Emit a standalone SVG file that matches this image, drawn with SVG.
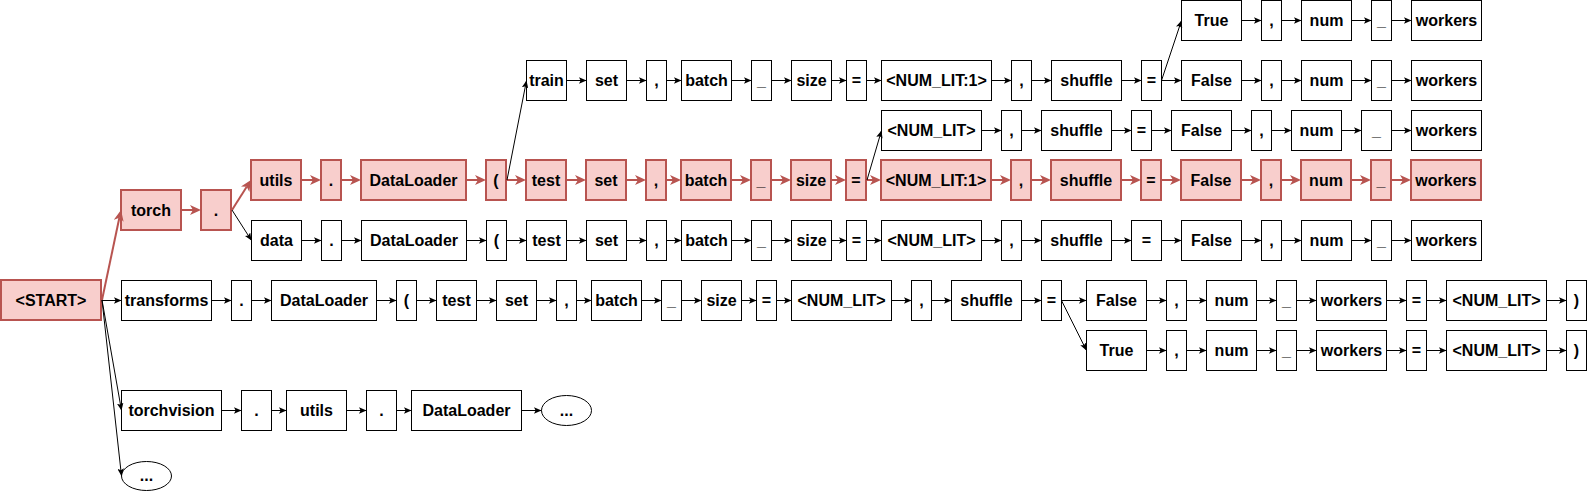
<svg xmlns="http://www.w3.org/2000/svg" width="1587" height="491" viewBox="0 0 1587 491">
<style>
.n rect{fill:#fff;stroke:#000;stroke-width:1}
.n ellipse{fill:#fff;stroke:#000;stroke-width:1}
.h rect{fill:#f8cecc;stroke:#b85450;stroke-width:2}
text{font-family:"Liberation Sans",Arial,sans-serif;font-size:16px;font-weight:bold;text-anchor:middle;fill:#000}
#edges .b{stroke:#000;stroke-width:1;fill:none;marker-end:url(#ab)}
#edges .r{stroke:#b85450;stroke-width:2;fill:none;marker-end:url(#ar)}
</style>
<defs>
<marker id="ab" viewBox="0 0 7.5 6.5" markerWidth="7.5" markerHeight="6.5" refX="7.5" refY="3.25" orient="auto" markerUnits="userSpaceOnUse"><path d="M0,0 L7.5,3.25 L0,6.5 L1.6,3.25 Z" fill="#000"/></marker>
<marker id="ar" viewBox="0 0 11 10" markerWidth="11" markerHeight="10" refX="3" refY="5" orient="auto" markerUnits="userSpaceOnUse"><path d="M0,0 L11,5 L0,10 L3,5 Z" fill="#b85450"/></marker>
</defs>
<rect width="1587" height="491" fill="#fff"/>

<!-- Row A -->
<g id="a1" class="n"><rect x="1181.5" y="0.5" width="60" height="40"/><text x="1211.5" y="26">True</text></g>
<g id="a2" class="n"><rect x="1261.5" y="0.5" width="20" height="40"/><text x="1271.5" y="26">,</text></g>
<g id="a3" class="n"><rect x="1301.5" y="0.5" width="50" height="40"/><text x="1326.5" y="26">num</text></g>
<g id="a4" class="n"><rect x="1371.5" y="0.5" width="20" height="40"/><text x="1381.5" y="26">_</text></g>
<g id="a5" class="n"><rect x="1411.5" y="0.5" width="70" height="40"/><text x="1446.5" y="26">workers</text></g>

<!-- Row B -->
<g id="b1" class="n"><rect x="526.5" y="60.5" width="40" height="40"/><text x="546.5" y="86">train</text></g>
<g id="b2" class="n"><rect x="586.5" y="60.5" width="40" height="40"/><text x="606.5" y="86">set</text></g>
<g id="b3" class="n"><rect x="646.5" y="60.5" width="20" height="40"/><text x="656.5" y="86">,</text></g>
<g id="b4" class="n"><rect x="681.5" y="60.5" width="50" height="40"/><text x="706.5" y="86">batch</text></g>
<g id="b5" class="n"><rect x="751.5" y="60.5" width="20" height="40"/><text x="761.5" y="86">_</text></g>
<g id="b6" class="n"><rect x="791.5" y="60.5" width="40" height="40"/><text x="811.5" y="86">size</text></g>
<g id="b7" class="n"><rect x="846.5" y="60.5" width="20" height="40"/><text x="856.5" y="86">=</text></g>
<g id="b8" class="n"><rect x="881.5" y="60.5" width="110" height="40"/><text x="936.5" y="86">&lt;NUM_LIT:1&gt;</text></g>
<g id="b9" class="n"><rect x="1011.5" y="60.5" width="20" height="40"/><text x="1021.5" y="86">,</text></g>
<g id="b10" class="n"><rect x="1051.5" y="60.5" width="70" height="40"/><text x="1086.5" y="86">shuffle</text></g>
<g id="b11" class="n"><rect x="1141.5" y="60.5" width="20" height="40"/><text x="1151.5" y="86">=</text></g>
<g id="b12" class="n"><rect x="1181.5" y="60.5" width="60" height="40"/><text x="1211.5" y="86">False</text></g>
<g id="b13" class="n"><rect x="1261.5" y="60.5" width="20" height="40"/><text x="1271.5" y="86">,</text></g>
<g id="b14" class="n"><rect x="1301.5" y="60.5" width="50" height="40"/><text x="1326.5" y="86">num</text></g>
<g id="b15" class="n"><rect x="1371.5" y="60.5" width="20" height="40"/><text x="1381.5" y="86">_</text></g>
<g id="b16" class="n"><rect x="1411.5" y="60.5" width="70" height="40"/><text x="1446.5" y="86">workers</text></g>

<!-- Row C -->
<g id="c1" class="n"><rect x="881.5" y="110.5" width="100" height="40"/><text x="931.5" y="136">&lt;NUM_LIT&gt;</text></g>
<g id="c2" class="n"><rect x="1001.5" y="110.5" width="20" height="40"/><text x="1011.5" y="136">,</text></g>
<g id="c3" class="n"><rect x="1041.5" y="110.5" width="70" height="40"/><text x="1076.5" y="136">shuffle</text></g>
<g id="c4" class="n"><rect x="1131.5" y="110.5" width="20" height="40"/><text x="1141.5" y="136">=</text></g>
<g id="c5" class="n"><rect x="1171.5" y="110.5" width="60" height="40"/><text x="1201.5" y="136">False</text></g>
<g id="c6" class="n"><rect x="1251.5" y="110.5" width="20" height="40"/><text x="1261.5" y="136">,</text></g>
<g id="c7" class="n"><rect x="1291.5" y="110.5" width="50" height="40"/><text x="1316.5" y="136">num</text></g>
<g id="c8" class="n"><rect x="1361.5" y="110.5" width="30" height="40"/><text x="1376.5" y="136">_</text></g>
<g id="c9" class="n"><rect x="1411.5" y="110.5" width="70" height="40"/><text x="1446.5" y="136">workers</text></g>

<!-- Highlighted path -->
<g id="start" class="h"><rect x="1" y="280" width="100" height="40"/><text x="51" y="306">&lt;START&gt;</text></g>
<g id="torch" class="h"><rect x="121" y="190" width="60" height="40"/><text x="151" y="216">torch</text></g>
<g id="torchdot" class="h"><rect x="201" y="190" width="30" height="40"/><text x="216" y="216">.</text></g>
<g id="d1" class="h"><rect x="251" y="160" width="50" height="40"/><text x="276" y="186">utils</text></g>
<g id="d2" class="h"><rect x="321" y="160" width="20" height="40"/><text x="331" y="186">.</text></g>
<g id="d3" class="h"><rect x="361" y="160" width="105" height="40"/><text x="413.5" y="186">DataLoader</text></g>
<g id="d4" class="h"><rect x="486" y="160" width="20" height="40"/><text x="496" y="186">(</text></g>
<g id="d5" class="h"><rect x="526" y="160" width="40" height="40"/><text x="546" y="186">test</text></g>
<g id="d6" class="h"><rect x="586" y="160" width="40" height="40"/><text x="606" y="186">set</text></g>
<g id="d7" class="h"><rect x="646" y="160" width="20" height="40"/><text x="656" y="186">,</text></g>
<g id="d8" class="h"><rect x="681" y="160" width="50" height="40"/><text x="706" y="186">batch</text></g>
<g id="d9" class="h"><rect x="751" y="160" width="20" height="40"/><text x="761" y="186">_</text></g>
<g id="d10" class="h"><rect x="791" y="160" width="40" height="40"/><text x="811" y="186">size</text></g>
<g id="d11" class="h"><rect x="846" y="160" width="20" height="40"/><text x="856" y="186">=</text></g>
<g id="d12" class="h"><rect x="881" y="160" width="110" height="40"/><text x="936" y="186">&lt;NUM_LIT:1&gt;</text></g>
<g id="d13" class="h"><rect x="1011" y="160" width="20" height="40"/><text x="1021" y="186">,</text></g>
<g id="d14" class="h"><rect x="1051" y="160" width="70" height="40"/><text x="1086" y="186">shuffle</text></g>
<g id="d15" class="h"><rect x="1141" y="160" width="20" height="40"/><text x="1151" y="186">=</text></g>
<g id="d16" class="h"><rect x="1181" y="160" width="60" height="40"/><text x="1211" y="186">False</text></g>
<g id="d17" class="h"><rect x="1261" y="160" width="20" height="40"/><text x="1271" y="186">,</text></g>
<g id="d18" class="h"><rect x="1301" y="160" width="50" height="40"/><text x="1326" y="186">num</text></g>
<g id="d19" class="h"><rect x="1371" y="160" width="20" height="40"/><text x="1381" y="186">_</text></g>
<g id="d20" class="h"><rect x="1411" y="160" width="70" height="40"/><text x="1446" y="186">workers</text></g>

<!-- Row E -->
<g id="e1" class="n"><rect x="251.5" y="220.5" width="50" height="40"/><text x="276.5" y="246">data</text></g>
<g id="e2" class="n"><rect x="321.5" y="220.5" width="20" height="40"/><text x="331.5" y="246">.</text></g>
<g id="e3" class="n"><rect x="361.5" y="220.5" width="105" height="40"/><text x="414" y="246">DataLoader</text></g>
<g id="e4" class="n"><rect x="486.5" y="220.5" width="20" height="40"/><text x="496.5" y="246">(</text></g>
<g id="e5" class="n"><rect x="526.5" y="220.5" width="40" height="40"/><text x="546.5" y="246">test</text></g>
<g id="e6" class="n"><rect x="586.5" y="220.5" width="40" height="40"/><text x="606.5" y="246">set</text></g>
<g id="e7" class="n"><rect x="646.5" y="220.5" width="20" height="40"/><text x="656.5" y="246">,</text></g>
<g id="e8" class="n"><rect x="681.5" y="220.5" width="50" height="40"/><text x="706.5" y="246">batch</text></g>
<g id="e9" class="n"><rect x="751.5" y="220.5" width="20" height="40"/><text x="761.5" y="246">_</text></g>
<g id="e10" class="n"><rect x="791.5" y="220.5" width="40" height="40"/><text x="811.5" y="246">size</text></g>
<g id="e11" class="n"><rect x="846.5" y="220.5" width="20" height="40"/><text x="856.5" y="246">=</text></g>
<g id="e12" class="n"><rect x="881.5" y="220.5" width="100" height="40"/><text x="931.5" y="246">&lt;NUM_LIT&gt;</text></g>
<g id="e13" class="n"><rect x="1001.5" y="220.5" width="20" height="40"/><text x="1011.5" y="246">,</text></g>
<g id="e14" class="n"><rect x="1041.5" y="220.5" width="70" height="40"/><text x="1076.5" y="246">shuffle</text></g>
<g id="e15" class="n"><rect x="1131.5" y="220.5" width="30" height="40"/><text x="1146.5" y="246">=</text></g>
<g id="e16" class="n"><rect x="1181.5" y="220.5" width="60" height="40"/><text x="1211.5" y="246">False</text></g>
<g id="e17" class="n"><rect x="1261.5" y="220.5" width="20" height="40"/><text x="1271.5" y="246">,</text></g>
<g id="e18" class="n"><rect x="1301.5" y="220.5" width="50" height="40"/><text x="1326.5" y="246">num</text></g>
<g id="e19" class="n"><rect x="1371.5" y="220.5" width="20" height="40"/><text x="1381.5" y="246">_</text></g>
<g id="e20" class="n"><rect x="1411.5" y="220.5" width="70" height="40"/><text x="1446.5" y="246">workers</text></g>

<!-- Row F -->
<g id="f1" class="n"><rect x="121.5" y="280.5" width="90" height="40"/><text x="166.5" y="306">transforms</text></g>
<g id="f2" class="n"><rect x="231.5" y="280.5" width="20" height="40"/><text x="241.5" y="306">.</text></g>
<g id="f3" class="n"><rect x="271.5" y="280.5" width="105" height="40"/><text x="324" y="306">DataLoader</text></g>
<g id="f4" class="n"><rect x="396.5" y="280.5" width="20" height="40"/><text x="406.5" y="306">(</text></g>
<g id="f5" class="n"><rect x="436.5" y="280.5" width="40" height="40"/><text x="456.5" y="306">test</text></g>
<g id="f6" class="n"><rect x="496.5" y="280.5" width="40" height="40"/><text x="516.5" y="306">set</text></g>
<g id="f7" class="n"><rect x="556.5" y="280.5" width="20" height="40"/><text x="566.5" y="306">,</text></g>
<g id="f8" class="n"><rect x="591.5" y="280.5" width="50" height="40"/><text x="616.5" y="306">batch</text></g>
<g id="f9" class="n"><rect x="661.5" y="280.5" width="20" height="40"/><text x="671.5" y="306">_</text></g>
<g id="f10" class="n"><rect x="701.5" y="280.5" width="40" height="40"/><text x="721.5" y="306">size</text></g>
<g id="f11" class="n"><rect x="756.5" y="280.5" width="20" height="40"/><text x="766.5" y="306">=</text></g>
<g id="f12" class="n"><rect x="791.5" y="280.5" width="100" height="40"/><text x="841.5" y="306">&lt;NUM_LIT&gt;</text></g>
<g id="f13" class="n"><rect x="911.5" y="280.5" width="20" height="40"/><text x="921.5" y="306">,</text></g>
<g id="f14" class="n"><rect x="951.5" y="280.5" width="70" height="40"/><text x="986.5" y="306">shuffle</text></g>
<g id="f15" class="n"><rect x="1041.5" y="280.5" width="20" height="40"/><text x="1051.5" y="306">=</text></g>
<g id="f16" class="n"><rect x="1086.5" y="280.5" width="60" height="40"/><text x="1116.5" y="306">False</text></g>
<g id="f17" class="n"><rect x="1166.5" y="280.5" width="20" height="40"/><text x="1176.5" y="306">,</text></g>
<g id="f18" class="n"><rect x="1206.5" y="280.5" width="50" height="40"/><text x="1231.5" y="306">num</text></g>
<g id="f19" class="n"><rect x="1276.5" y="280.5" width="20" height="40"/><text x="1286.5" y="306">_</text></g>
<g id="f20" class="n"><rect x="1316.5" y="280.5" width="70" height="40"/><text x="1351.5" y="306">workers</text></g>
<g id="f21" class="n"><rect x="1406.5" y="280.5" width="20" height="40"/><text x="1416.5" y="306">=</text></g>
<g id="f22" class="n"><rect x="1446.5" y="280.5" width="100" height="40"/><text x="1496.5" y="306">&lt;NUM_LIT&gt;</text></g>
<g id="f23" class="n"><rect x="1566.5" y="280.5" width="20" height="40"/><text x="1576.5" y="306">)</text></g>

<!-- Row G -->
<g id="g1" class="n"><rect x="1086.5" y="330.5" width="60" height="40"/><text x="1116.5" y="356">True</text></g>
<g id="g2" class="n"><rect x="1166.5" y="330.5" width="20" height="40"/><text x="1176.5" y="356">,</text></g>
<g id="g3" class="n"><rect x="1206.5" y="330.5" width="50" height="40"/><text x="1231.5" y="356">num</text></g>
<g id="g4" class="n"><rect x="1276.5" y="330.5" width="20" height="40"/><text x="1286.5" y="356">_</text></g>
<g id="g5" class="n"><rect x="1316.5" y="330.5" width="70" height="40"/><text x="1351.5" y="356">workers</text></g>
<g id="g6" class="n"><rect x="1406.5" y="330.5" width="20" height="40"/><text x="1416.5" y="356">=</text></g>
<g id="g7" class="n"><rect x="1446.5" y="330.5" width="100" height="40"/><text x="1496.5" y="356">&lt;NUM_LIT&gt;</text></g>
<g id="g8" class="n"><rect x="1566.5" y="330.5" width="20" height="40"/><text x="1576.5" y="356">)</text></g>

<!-- Row H -->
<g id="h1" class="n"><rect x="121.5" y="390.5" width="100" height="40"/><text x="171.5" y="416">torchvision</text></g>
<g id="h2" class="n"><rect x="241.5" y="390.5" width="30" height="40"/><text x="256.5" y="416">.</text></g>
<g id="h3" class="n"><rect x="286.5" y="390.5" width="60" height="40"/><text x="316.5" y="416">utils</text></g>
<g id="h4" class="n"><rect x="366.5" y="390.5" width="30" height="40"/><text x="381.5" y="416">.</text></g>
<g id="h5" class="n"><rect x="411.5" y="390.5" width="110" height="40"/><text x="466.5" y="416">DataLoader</text></g>
<g id="h6" class="n"><ellipse cx="566.5" cy="410.5" rx="25" ry="15"/><text x="566.5" y="416">...</text></g>
<g id="more" class="n"><ellipse cx="146.5" cy="476" rx="25" ry="14.5"/><text x="146.5" y="481">...</text></g>

<g id="edges">
<!-- red path -->
<line class="r" x1="102" y1="300" x2="119.35" y2="217.83"/>
<line class="r" x1="181" y1="210" x2="193" y2="210"/>
<line class="r" x1="232" y1="210" x2="246.72" y2="186.76"/>
<line class="r" x1="301" y1="180" x2="313" y2="180"/>
<line class="r" x1="341" y1="180" x2="353" y2="180"/>
<line class="r" x1="466" y1="180" x2="478" y2="180"/>
<line class="r" x1="506" y1="180" x2="518" y2="180"/>
<line class="r" x1="566" y1="180" x2="578" y2="180"/>
<line class="r" x1="626" y1="180" x2="638" y2="180"/>
<line class="r" x1="666" y1="180" x2="673" y2="180"/>
<line class="r" x1="731" y1="180" x2="743" y2="180"/>
<line class="r" x1="771" y1="180" x2="783" y2="180"/>
<line class="r" x1="831" y1="180" x2="838" y2="180"/>
<line class="r" x1="866" y1="180" x2="873" y2="180"/>
<line class="r" x1="991" y1="180" x2="1003" y2="180"/>
<line class="r" x1="1031" y1="180" x2="1043" y2="180"/>
<line class="r" x1="1121" y1="180" x2="1133" y2="180"/>
<line class="r" x1="1161" y1="180" x2="1173" y2="180"/>
<line class="r" x1="1241" y1="180" x2="1253" y2="180"/>
<line class="r" x1="1281" y1="180" x2="1293" y2="180"/>
<line class="r" x1="1351" y1="180" x2="1363" y2="180"/>
<line class="r" x1="1391" y1="180" x2="1403" y2="180"/>
<!-- branches -->
<line class="b" x1="232" y1="210" x2="251.5" y2="240.5"/>
<line class="b" x1="507" y1="180" x2="526.5" y2="80.5"/>
<line class="b" x1="867" y1="180" x2="881.5" y2="130.5"/>
<line class="b" x1="1161.5" y1="80.5" x2="1181.5" y2="20.5"/>
<line class="b" x1="1061.5" y1="300.5" x2="1086.5" y2="350.5"/>
<line class="b" x1="102" y1="300.5" x2="121.5" y2="300.5"/>
<line class="b" x1="102" y1="300" x2="121.5" y2="410.5"/>
<line class="b" x1="102" y1="300" x2="121.5" y2="476"/>
<!-- row A -->
<line class="b" x1="1241.5" y1="20.5" x2="1261.5" y2="20.5"/>
<line class="b" x1="1281.5" y1="20.5" x2="1301.5" y2="20.5"/>
<line class="b" x1="1351.5" y1="20.5" x2="1371.5" y2="20.5"/>
<line class="b" x1="1391.5" y1="20.5" x2="1411.5" y2="20.5"/>
<!-- row B -->
<line class="b" x1="566.5" y1="80.5" x2="586.5" y2="80.5"/>
<line class="b" x1="626.5" y1="80.5" x2="646.5" y2="80.5"/>
<line class="b" x1="666.5" y1="80.5" x2="681.5" y2="80.5"/>
<line class="b" x1="731.5" y1="80.5" x2="751.5" y2="80.5"/>
<line class="b" x1="771.5" y1="80.5" x2="791.5" y2="80.5"/>
<line class="b" x1="831.5" y1="80.5" x2="846.5" y2="80.5"/>
<line class="b" x1="866.5" y1="80.5" x2="881.5" y2="80.5"/>
<line class="b" x1="991.5" y1="80.5" x2="1011.5" y2="80.5"/>
<line class="b" x1="1031.5" y1="80.5" x2="1051.5" y2="80.5"/>
<line class="b" x1="1121.5" y1="80.5" x2="1141.5" y2="80.5"/>
<line class="b" x1="1161.5" y1="80.5" x2="1181.5" y2="80.5"/>
<line class="b" x1="1241.5" y1="80.5" x2="1261.5" y2="80.5"/>
<line class="b" x1="1281.5" y1="80.5" x2="1301.5" y2="80.5"/>
<line class="b" x1="1351.5" y1="80.5" x2="1371.5" y2="80.5"/>
<line class="b" x1="1391.5" y1="80.5" x2="1411.5" y2="80.5"/>
<!-- row C -->
<line class="b" x1="981.5" y1="130.5" x2="1001.5" y2="130.5"/>
<line class="b" x1="1021.5" y1="130.5" x2="1041.5" y2="130.5"/>
<line class="b" x1="1111.5" y1="130.5" x2="1131.5" y2="130.5"/>
<line class="b" x1="1151.5" y1="130.5" x2="1171.5" y2="130.5"/>
<line class="b" x1="1231.5" y1="130.5" x2="1251.5" y2="130.5"/>
<line class="b" x1="1271.5" y1="130.5" x2="1291.5" y2="130.5"/>
<line class="b" x1="1341.5" y1="130.5" x2="1361.5" y2="130.5"/>
<line class="b" x1="1391.5" y1="130.5" x2="1411.5" y2="130.5"/>
<!-- row E -->
<line class="b" x1="301.5" y1="240.5" x2="321.5" y2="240.5"/>
<line class="b" x1="341.5" y1="240.5" x2="361.5" y2="240.5"/>
<line class="b" x1="466.5" y1="240.5" x2="486.5" y2="240.5"/>
<line class="b" x1="506.5" y1="240.5" x2="526.5" y2="240.5"/>
<line class="b" x1="566.5" y1="240.5" x2="586.5" y2="240.5"/>
<line class="b" x1="626.5" y1="240.5" x2="646.5" y2="240.5"/>
<line class="b" x1="666.5" y1="240.5" x2="681.5" y2="240.5"/>
<line class="b" x1="731.5" y1="240.5" x2="751.5" y2="240.5"/>
<line class="b" x1="771.5" y1="240.5" x2="791.5" y2="240.5"/>
<line class="b" x1="831.5" y1="240.5" x2="846.5" y2="240.5"/>
<line class="b" x1="866.5" y1="240.5" x2="881.5" y2="240.5"/>
<line class="b" x1="981.5" y1="240.5" x2="1001.5" y2="240.5"/>
<line class="b" x1="1021.5" y1="240.5" x2="1041.5" y2="240.5"/>
<line class="b" x1="1111.5" y1="240.5" x2="1131.5" y2="240.5"/>
<line class="b" x1="1161.5" y1="240.5" x2="1181.5" y2="240.5"/>
<line class="b" x1="1241.5" y1="240.5" x2="1261.5" y2="240.5"/>
<line class="b" x1="1281.5" y1="240.5" x2="1301.5" y2="240.5"/>
<line class="b" x1="1351.5" y1="240.5" x2="1371.5" y2="240.5"/>
<line class="b" x1="1391.5" y1="240.5" x2="1411.5" y2="240.5"/>
<!-- row F -->
<line class="b" x1="211.5" y1="300.5" x2="231.5" y2="300.5"/>
<line class="b" x1="251.5" y1="300.5" x2="271.5" y2="300.5"/>
<line class="b" x1="376.5" y1="300.5" x2="396.5" y2="300.5"/>
<line class="b" x1="416.5" y1="300.5" x2="436.5" y2="300.5"/>
<line class="b" x1="476.5" y1="300.5" x2="496.5" y2="300.5"/>
<line class="b" x1="536.5" y1="300.5" x2="556.5" y2="300.5"/>
<line class="b" x1="576.5" y1="300.5" x2="591.5" y2="300.5"/>
<line class="b" x1="641.5" y1="300.5" x2="661.5" y2="300.5"/>
<line class="b" x1="681.5" y1="300.5" x2="701.5" y2="300.5"/>
<line class="b" x1="741.5" y1="300.5" x2="756.5" y2="300.5"/>
<line class="b" x1="776.5" y1="300.5" x2="791.5" y2="300.5"/>
<line class="b" x1="891.5" y1="300.5" x2="911.5" y2="300.5"/>
<line class="b" x1="931.5" y1="300.5" x2="951.5" y2="300.5"/>
<line class="b" x1="1021.5" y1="300.5" x2="1041.5" y2="300.5"/>
<line class="b" x1="1061.5" y1="300.5" x2="1086.5" y2="300.5"/>
<line class="b" x1="1146.5" y1="300.5" x2="1166.5" y2="300.5"/>
<line class="b" x1="1186.5" y1="300.5" x2="1206.5" y2="300.5"/>
<line class="b" x1="1256.5" y1="300.5" x2="1276.5" y2="300.5"/>
<line class="b" x1="1296.5" y1="300.5" x2="1316.5" y2="300.5"/>
<line class="b" x1="1386.5" y1="300.5" x2="1406.5" y2="300.5"/>
<line class="b" x1="1426.5" y1="300.5" x2="1446.5" y2="300.5"/>
<line class="b" x1="1546.5" y1="300.5" x2="1566.5" y2="300.5"/>
<!-- row G -->
<line class="b" x1="1146.5" y1="350.5" x2="1166.5" y2="350.5"/>
<line class="b" x1="1186.5" y1="350.5" x2="1206.5" y2="350.5"/>
<line class="b" x1="1256.5" y1="350.5" x2="1276.5" y2="350.5"/>
<line class="b" x1="1296.5" y1="350.5" x2="1316.5" y2="350.5"/>
<line class="b" x1="1386.5" y1="350.5" x2="1406.5" y2="350.5"/>
<line class="b" x1="1426.5" y1="350.5" x2="1446.5" y2="350.5"/>
<line class="b" x1="1546.5" y1="350.5" x2="1566.5" y2="350.5"/>
<!-- row H -->
<line class="b" x1="221.5" y1="410.5" x2="241.5" y2="410.5"/>
<line class="b" x1="271.5" y1="410.5" x2="286.5" y2="410.5"/>
<line class="b" x1="346.5" y1="410.5" x2="366.5" y2="410.5"/>
<line class="b" x1="396.5" y1="410.5" x2="411.5" y2="410.5"/>
<line class="b" x1="521.5" y1="410.5" x2="541.5" y2="410.5"/>
</g>
</svg>
